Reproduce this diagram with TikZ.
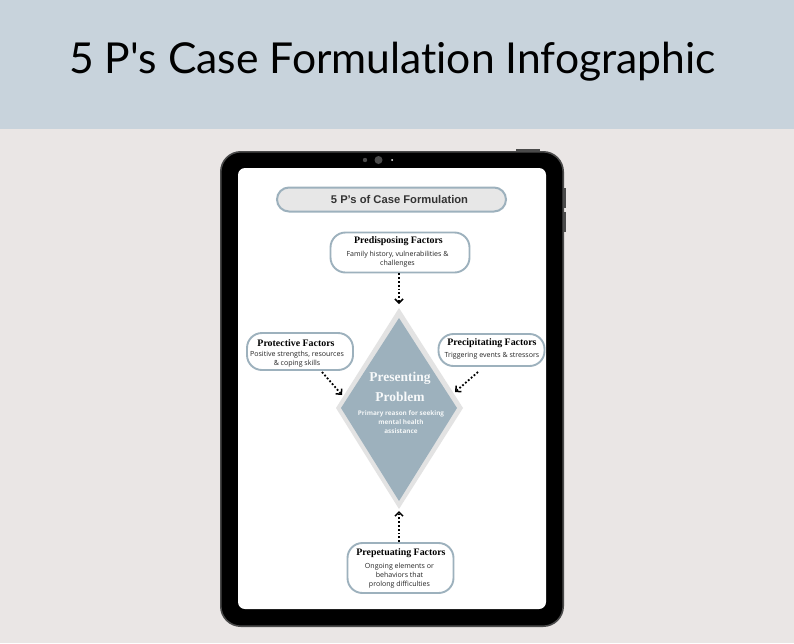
\documentclass[tikz,border=0pt]{standalone}
\usepackage{fontspec}
\setmainfont{Liberation Serif}
\setsansfont{Liberation Sans}
\newfontfamily\bodyfont{Open Sans}
\newfontfamily\titlefont[Ligatures=CommonOff]{Lato}
\usetikzlibrary{arrows.meta}
\definecolor{band}{HTML}{C8D3DC}
\definecolor{backdrop}{HTML}{EAE6E5}
\definecolor{slateblue}{HTML}{9DB1BD}
\definecolor{paleedge}{HTML}{E3E3E3}
\definecolor{bezel}{HTML}{4A4A4A}
\tikzset{
  factor/.style={draw=slateblue,line width=1.9pt,fill=white,rounded corners=15pt,inner sep=0pt,align=center},
  headtext/.style={font=\fontsize{9.9}{12}\selectfont\bfseries,text=black},
  subtext/.style={font=\bodyfont\fontsize{7.05}{9.2}\selectfont,text=black!85,align=center},
  flow/.style={line width=1.8pt,dotted,line cap=butt,-{Straight Barb[length=4pt,width=8pt,line width=1.5pt,line cap=butt]},black},
}
\begin{document}
\begin{tikzpicture}[x=1pt,y=-1pt]
\useasboundingbox (0,0) rectangle (794,643);
\fill[backdrop] (0,0) rectangle (794,643);
\fill[band] (0,0) rectangle (794,129);
\node (title) at (392.5,62) {\titlefont\fontsize{42.6}{48}\selectfont 5 P's Case Formulation Infographic};
% tablet
\fill[bezel] (516,149) rectangle (540,153);
\fill[bezel] (562,188) rectangle (566,208);
\fill[bezel] (562,212) rectangle (566,232);
\draw[bezel,line width=1.6pt,fill=black,rounded corners=20pt] (220.8,151.8) rectangle (563.2,626.2);
\fill[white,rounded corners=7pt] (238,168) rectangle (546,609);
\fill[black!70] (365,160) circle (2.2);
\fill[black!70] (378.5,160) circle (4);
\fill[white] (392,160) circle (1);
% header
\node[draw=slateblue,line width=2pt,fill=paleedge!85!white,rounded corners=12pt,minimum width=229pt,minimum height=24pt,inner sep=0pt] (header) at (391.5,199.5) {};
\node[font=\sffamily\bfseries\fontsize{11.2}{13}\selectfont,text=black!80] (headertext) at (399.5,199.5) {5 P's of Case Formulation};
% diamond
\path[fill=paleedge] (399,308) -- (463,408) -- (399,509) -- (336,408) -- cycle;
\path[fill=slateblue] (399,318) -- (457,408) -- (399,501) -- (341,408) -- cycle;
\coordinate (dtop) at (399,304);
\coordinate (dbottom) at (399,511);
\coordinate (dleft) at (342,395);
\coordinate (dright) at (455,392);
\node[font=\bfseries\fontsize{13.5}{19.5}\selectfont,text=white!92!slateblue,align=center] (ptitle) at (400,387) {Presenting\\Problem};
\node[font=\bodyfont\bfseries\fontsize{6.4}{9.2}\selectfont,text=white!88!slateblue,align=center] (psub) at (401,422) {Primary reason for seeking\\mental health\\assistance};
% factor boxes
\node[factor,minimum width=139pt,minimum height=40pt] (pred) at (400,252.5) {};
\node[headtext] (predh) at (398.5,241.5) {Predisposing Factors};
\node[subtext] (preds) at (397.5,259) {Family history, vulnerabilities \&\\challenges};
\node[factor,minimum width=106pt,minimum height=37pt] (prot) at (300,351.5) {};
\node[headtext] (proth) at (296,343) {Protective Factors};
\node[subtext] (prots) at (297,359) {Positive strengths, resources\\\& coping skills};
\node[factor,minimum width=106pt,minimum height=32pt] (prec) at (491.5,350) {};
\node[headtext] (prech) at (492,343.5) {Precipitating Factors};
\node[subtext] (precs) at (492,356) {Triggering events \& stressors};
\node[factor,minimum width=106pt,minimum height=50pt] (prep) at (400.5,568) {};
\node[headtext] (preph) at (401,553) {Prepetuating Factors};
\node[subtext] (preps) at (399.5,575.5) {Ongoing elements or\\behaviors that\\prolong difficulties};
% connectors
\coordinate (protout) at (322,372);
\coordinate (precout) at (478,372);
\draw[flow] (pred.south -| dtop) -- (dtop);
\draw[flow] (protout) -- (dleft);
\draw[flow] (precout) -- (dright);
\draw[flow] (prep.north -| dbottom) -- (dbottom);
\end{tikzpicture}
\end{document}
